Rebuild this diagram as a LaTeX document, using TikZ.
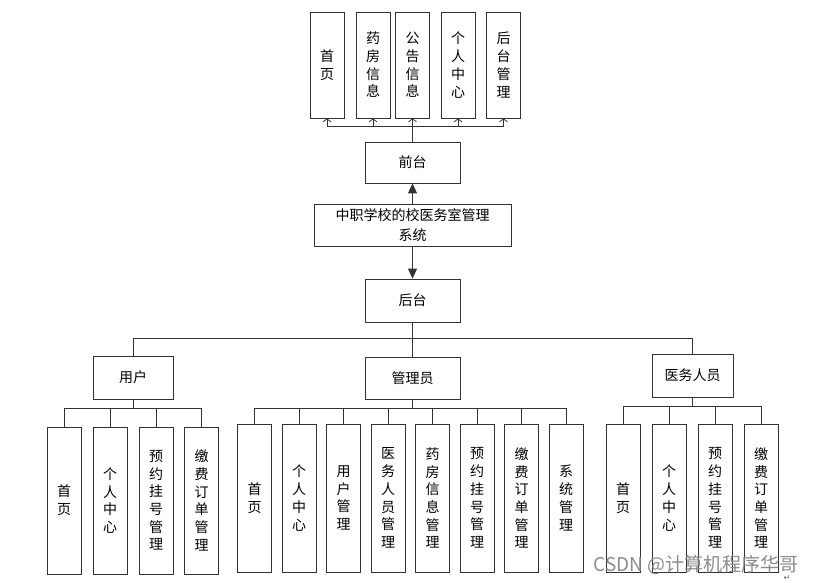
\documentclass[tikz,border=0pt]{standalone}
\usepackage{fontspec}
\setmainfont{Noto Sans CJK SC}
\newfontfamily\symfont{DejaVu Sans}
\usetikzlibrary{arrows.meta}

\tikzset{
	box/.style={draw=black!80, line width=0.8pt, fill=white, inner sep=0pt, align=center, font=\fontsize{14}{17.7}\selectfont},
	vbox/.style={box, minimum width=34pt},
	wire/.style={draw=black!80, line width=0.8pt},
}

\begin{document}
\begin{tikzpicture}[x=1pt, y=-1pt]
	\useasboundingbox (0,0) rectangle (817,583);

	% front end
	\foreach \x/\lbl [count=\i] in {327/首\\页, 373/药\\房\\信\\息, 412.5/公\\告\\信\\息, 458/个\\人\\中\\心, 503.5/后\\台\\管\\理}
		\node[vbox, minimum height=106pt] (T\i) at (\x,65) {\lbl};
	\node[box, minimum width=95pt, minimum height=41pt] (F) at (412.5,162.5) {前台};

	% system
	\node[box, minimum width=197pt, minimum height=42pt, font=\fontsize{14}{20}\selectfont] (S) at (412.5,225) {中职学校的校医务室管理\\系统};

	% back end
	\node[box, minimum width=95pt, minimum height=43pt] (B) at (412.5,300.5) {后台};
	\node[box, minimum width=80pt, minimum height=43pt] (U) at (133,377.5) {用户};
	\node[box, minimum width=95pt, minimum height=42pt] (M) at (412.5,378) {管理员};
	\node[box, minimum width=81pt, minimum height=43pt] (D) at (692.5,375.5) {医务人员};

	\foreach \x/\lbl [count=\i] in {64/首\\页, 110/个\\人\\中\\心, 156/预\\约\\挂\\号\\管\\理, 201.5/缴\\费\\订\\单\\管\\理}
		\node[vbox, minimum height=147pt] (U\i) at (\x,500.5) {\lbl};
	\foreach \x/\lbl [count=\i] in {254.5/首\\页, 299/个\\人\\中\\心, 343.5/用\\户\\管\\理, 388/医\\务\\人\\员\\管\\理, 432.5/药\\房\\信\\息\\管\\理, 477/预\\约\\挂\\号\\管\\理, 521.5/缴\\费\\订\\单\\管\\理, 566/系\\统\\管\\理}
		\node[vbox, minimum height=148pt] (M\i) at (\x,498) {\lbl};
	\foreach \x/\lbl [count=\i] in {623/首\\页, 669/个\\人\\中\\心, 715/预\\约\\挂\\号\\管\\理, 761/缴\\费\\订\\单\\管\\理}
		\node[vbox, minimum height=148pt] (D\i) at (\x,498) {\lbl};

	% connectors
	\coordinate (tb) at (412.5,126);
	\coordinate (mb) at (412.5,338);
	\coordinate (ub) at (133,408);
	\coordinate (md) at (412.5,408);
	\coordinate (db) at (692.5,406);

	\draw[wire] (F.north) -- (tb);
	\foreach \i in {1,...,5}
		\draw[wire, -{Straight Barb[length=3pt,width=8pt]}] (tb) -| (T\i.south);
	\draw[wire, -{Triangle[length=10pt,width=9pt]}] (S.north) -- (F.south);
	\draw[wire, -{Triangle[length=10pt,width=9pt]}] (S.south) -- (B.north);

	\draw[wire] (B.south) -- (mb);
	\foreach \n in {U,M,D}
		\draw[wire] (mb) -| (\n.north);

	\draw[wire] (U.south) -- (ub);
	\foreach \i in {1,...,4}
		\draw[wire] (ub) -| (U\i.north);
	\draw[wire] (M.south) -- (md);
	\foreach \i in {1,...,8}
		\draw[wire] (md) -| (M\i.north);
	\draw[wire] (D.south) -- (db);
	\foreach \i in {1,...,4}
		\draw[wire] (db) -| (D\i.north);

	% watermark
	\node[text=black!45, font=\fontsize{19}{20}\selectfont, inner sep=0pt] (W) at (696,565) {CSDN @计算机程序华哥};
	\node[text=black!60, font=\symfont\fontsize{8}{8}\selectfont, inner sep=0pt] (R) at (787,578) {↵};
\end{tikzpicture}
\end{document}
